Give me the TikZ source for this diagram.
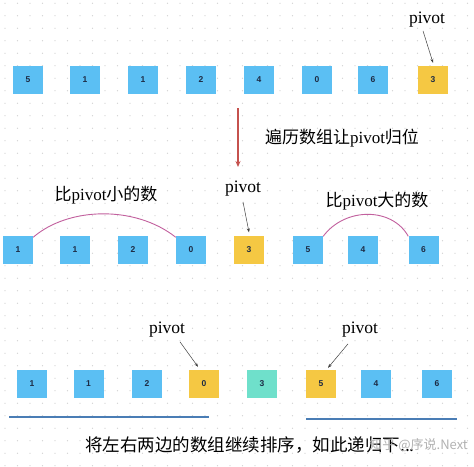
\documentclass[tikz,border=0pt]{standalone}
\usepackage{fontspec}
\setmainfont{Liberation Serif}
\newfontfamily\cjk{Noto Sans CJK SC}
\newfontfamily\numfont{Liberation Sans}
\usetikzlibrary{arrows.meta}
\definecolor{boxblue}{HTML}{5BBFF3}
\definecolor{boxyellow}{HTML}{F5C843}
\definecolor{boxteal}{HTML}{6FE0CB}
\definecolor{numc}{HTML}{1D2B44}
\definecolor{dotc}{HTML}{CFCFCF}
\definecolor{redarrow}{HTML}{C5524E}
\definecolor{arcc}{HTML}{C2609E}
\definecolor{linec}{HTML}{4A7DB5}
\begin{document}
\begin{tikzpicture}[x=1pt,y=-1pt,
  cell/.style={minimum width=30pt,minimum height=28pt,inner sep=0pt,
    font=\numfont\bfseries\fontsize{8.5}{9}\selectfont,text=numc},
  cb/.style={cell,fill=boxblue},
  cy/.style={cell,fill=boxyellow},
  ct/.style={cell,fill=boxteal},
  lbl/.style={inner sep=0pt,font=\fontsize{17.5}{18}\selectfont},
  zh/.style={inner sep=0pt,font=\fontsize{17}{18}\selectfont},
  ptr/.style={draw=black!75,line width=0.5pt,-{Stealth[length=4pt,width=3pt]}},
  arcline/.style={draw=arcc,line width=0.9pt},
  uline/.style={draw=linec,line width=1.1pt}]
\useasboundingbox (0,0) rectangle (474,466);
\fill[white] (0,0) rectangle (474,466);
% dot grid
\foreach \i in {0,...,37}{
  \foreach \j in {0,...,37}{
    \fill[dotc] (5+12.5*\i,3.3+12.5*\j) circle (0.6pt);
  }
}
% Row 1
\node[cb] (a1) at (28,80) {5};
\node[cb] (a2) at (85,80) {1};
\node[cb] (a3) at (143,80) {1};
\node[cb] (a4) at (201,80) {2};
\node[cb] (a5) at (259,80) {4};
\node[cb] (a6) at (317,80) {0};
\node[cb] (a7) at (373,80) {6};
\node[cy] (a8) at (433,80) {3};
\node[lbl] (p1) at (427,20) {pivot};
\draw[ptr] ([xshift=-4pt,yshift=-3pt]p1.south) -- ([yshift=3pt]a8.north);
% red arrow
\coordinate (rs) at (238,108);
\coordinate (re) at (238,167);
\draw[draw=redarrow,line width=1.1pt,-{Stealth[length=6pt,width=5pt]}] (rs) -- (re);
\node[zh] (t1) at (342,138) {{\cjk 遍历数组让}pivot{\cjk 归位}};
% Row 2
\node[cb] (b1) at (18,249.5) {1};
\node[cb] (b2) at (75,249.5) {1};
\node[cb] (b3) at (133,249.5) {2};
\node[cb] (b4) at (191,249.5) {0};
\node[cy] (b5) at (249,249.5) {3};
\node[cb] (b6) at (308,249.5) {5};
\node[cb] (b7) at (363,249.5) {4};
\node[cb] (b8) at (423.5,249.5) {6};
\node[lbl] (p2) at (243,189) {pivot};
\draw[ptr] ([yshift=-5pt]p2.south) -- ([yshift=3pt]b5.north);
\node[zh] (t2) at (106,195) {{\cjk 比}pivot{\cjk 小的数}};
\node[zh] (t3) at (377,201) {{\cjk 比}pivot{\cjk 大的数}};
\draw[arcline] ([yshift=-2pt]b1.north east) .. controls (68,207) and (135,205) .. ([yshift=-2pt]b4.north west);
\draw[arcline] ([yshift=-1pt]b6.north east) .. controls (345,207) and (392,207) .. ([yshift=-1pt]b8.north west);
% Row 3
\node[cb] (c1) at (32,384) {1};
\node[cb] (c2) at (88.5,384) {1};
\node[cb] (c3) at (147,384) {2};
\node[cy] (c4) at (204,384) {0};
\node[ct] (c5) at (262,384) {3};
\node[cy] (c6) at (321,384) {5};
\node[cb] (c7) at (376,384) {4};
\node[cb] (c8) at (437,384) {6};
\node[lbl] (p3) at (167,330) {pivot};
\node[lbl] (p4) at (360,330) {pivot};
\draw[ptr] ([xshift=13pt,yshift=-4pt]p3.south) -- ([xshift=-6pt,yshift=3pt]c4.north);
\draw[ptr] ([xshift=-12pt,yshift=-6pt]p4.south) -- ([xshift=7pt,yshift=2pt]c6.north);
% underlines
\coordinate (l1a) at (9,417);
\coordinate (l1b) at (209,417);
\coordinate (l2a) at (306,419);
\coordinate (l2b) at (457,419);
\draw[uline] (l1a) -- (l1b);
\draw[uline] (l2a) -- (l2b);
% bottom text
\node[zh,anchor=west,font=\cjk\fontsize{17.5}{18}\selectfont] (t4) at (85,445) {将左右两边的数组继续排序，如此递归下...};
% watermark
\node[inner sep=0pt,anchor=east,text=black!30,font=\cjk\fontsize{13}{14}\selectfont] (wm) at (468,445) {知乎 @序说.Next};
\end{tikzpicture}
\end{document}
